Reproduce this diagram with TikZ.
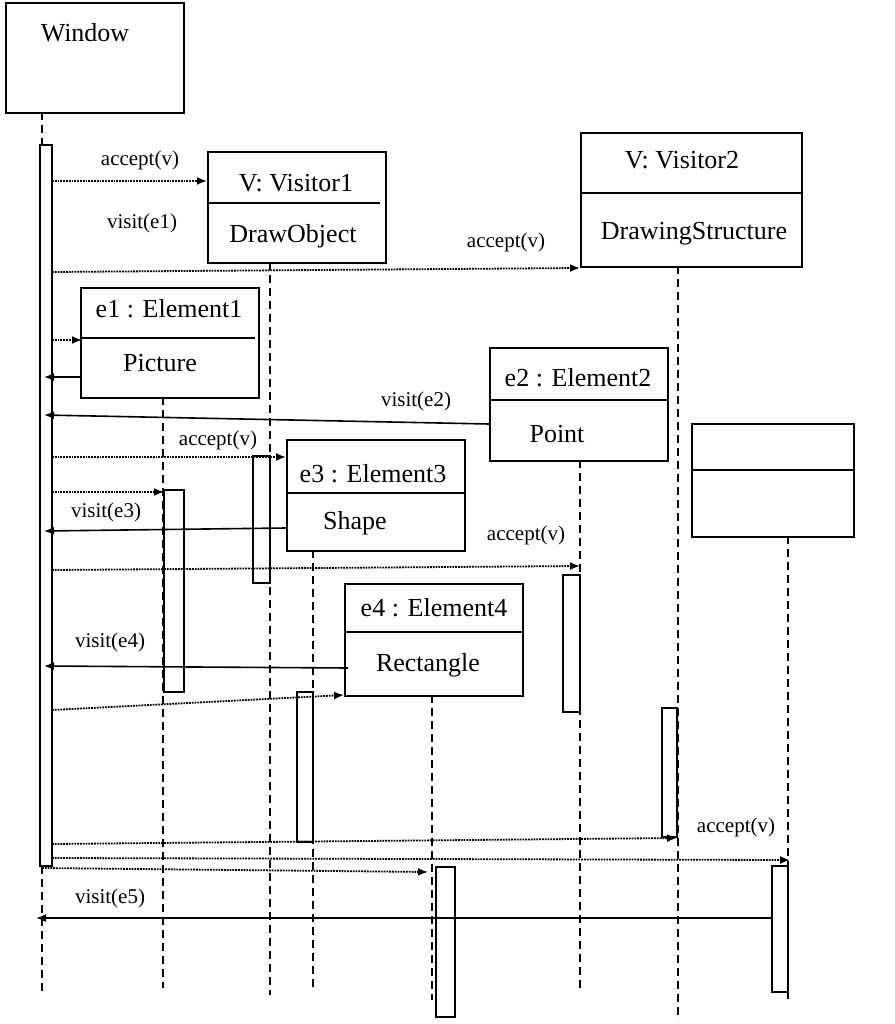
\documentclass[tikz,border=0pt]{standalone}
\usepackage{fontspec}
\setmainfont{Liberation Serif}
\usetikzlibrary{arrows.meta}
\begin{document}
\begin{tikzpicture}[x=1pt,y=-1pt,
    obj/.style={draw,line width=1.6pt,inner sep=0pt,anchor=north west},
    txt/.style={font=\fontsize{26}{28}\selectfont},
    lbl/.style={font=\fontsize{21}{23}\selectfont},
    life/.style={dash pattern=on 8pt off 5pt,line width=1.5pt},
    bar/.style={draw,line width=1.6pt,fill=white},
    call/.style={densely dotted,line width=1.8pt,-{Latex[length=10pt,width=8pt]}},
    ret/.style={line width=1.6pt,-{Latex[length=10pt,width=8pt]}}]
    \useasboundingbox (0,0) rectangle (894,1024);

    % lifelines
    \draw[life] (42,112) -- (42,995);
    \draw[life] (270,262) -- (270,995);
    \draw[life] (163,397) -- (163,988);
    \draw[life] (580,460) -- (580,990);
    \draw[life] (678,266) -- (678,1020);
    \draw[life] (313,550) -- (313,990);
    \draw[life] (432,695) -- (432,1000);
    \draw[life] (788,536) -- (788,1000);

    % objects
    \node[obj,minimum width=178pt,minimum height=110pt] (win) at (5,2) {};
    \node[txt] at (85,33) {Window};
    \node[obj,minimum width=178pt,minimum height=111pt] (vis1) at (207,151) {};
    \draw[line width=1.6pt] (207,203) -- (380,203);
    \node[txt] at (296,183) {V: Visitor1};
    \node[txt] at (293,236) {DrawObject};
    \node[obj,minimum width=221pt,minimum height=134pt] (vis2) at (580,132) {};
    \draw[line width=1.6pt] (580,193) -- (801,193);
    \node[txt] at (682,160) {V: Visitor2};
    \node[txt] at (694,234) {DrawingStructure};
    \node[obj,minimum width=178pt,minimum height=110pt] (el1) at (80,287) {};
    \draw[line width=1.6pt] (80,338) -- (255,338);
    \node[txt] at (169,309) {e1 : Element1};
    \node[txt] at (160,363) {Picture};
    \node[obj,minimum width=178pt,minimum height=113pt] (el2) at (489,347) {};
    \draw[line width=1.6pt] (489,400) -- (667,400);
    \node[txt] at (578,378) {e2 : Element2};
    \node[txt] at (557,434) {Point};
    \node[obj,minimum width=162pt,minimum height=113pt] (blank) at (691,423) {};
    \draw[line width=1.6pt] (691,470) -- (853,470);
    \node[obj,minimum width=178pt,minimum height=111pt] (el3) at (286,439) {};
    \draw[line width=1.6pt] (286,493) -- (464,493);
    \node[txt] at (373,474) {e3 : Element3};
    \node[txt] at (355,523) {Shape};
    \node[obj,minimum width=178pt,minimum height=112pt] (el4) at (344,583) {};
    \draw[line width=1.6pt] (344,632) -- (522,632);
    \node[txt] at (434,608) {e4 : Element4};
    \node[txt] at (428,665) {Rectangle};

    % activation bars
    \draw[bar] (40,145) rectangle (52,866);
    \draw[bar] (253,456) rectangle (270,583);
    \draw[bar] (164,490) rectangle (184,692);
    \draw[bar] (297,692) rectangle (313,842);
    \draw[bar] (563,575) rectangle (580,712);
    \draw[bar] (662,708) rectangle (677,837);
    \draw[bar] (436,867) rectangle (455,1017);
    \draw[bar] (772,866) rectangle (788,992);

    % messages
    \draw[call] (52,181) -- (207,181);
    \node[lbl] at (140,160) {accept(v)};
    \node[lbl] at (142,223) {visit(e1)};
    \draw[call] (52,272) -- (580,268);
    \node[lbl] at (506,242) {accept(v)};
    \draw[call] (52,340) -- (82,340);
    \draw[ret] (82,377) -- (44,377);
    \draw[ret] (489,424) -- (44,415);
    \node[lbl] at (416,401) {visit(e2)};
    \draw[call] (52,457) -- (286,457);
    \node[lbl] at (218,440) {accept(v)};
    \draw[call] (52,492) -- (164,492);
    \draw[ret] (286,528) -- (44,531);
    \node[lbl] at (106,512) {visit(e3)};
    \draw[call] (52,570) -- (580,566);
    \node[lbl] at (526,535) {accept(v)};
    \draw[ret] (348,668) -- (44,666);
    \node[lbl] at (110,642) {visit(e4)};
    \draw[call] (52,710) -- (344,695);
    \draw[call] (52,844) -- (677,838);
    \node[lbl] at (736,827) {accept(v)};
    \draw[call] (52,858) -- (790,860);
    \draw[call] (42,868) -- (428,872);
    \draw[ret] (772,918) -- (36,918);
    \node[lbl] at (110,898) {visit(e5)};
\end{tikzpicture}
\end{document}
